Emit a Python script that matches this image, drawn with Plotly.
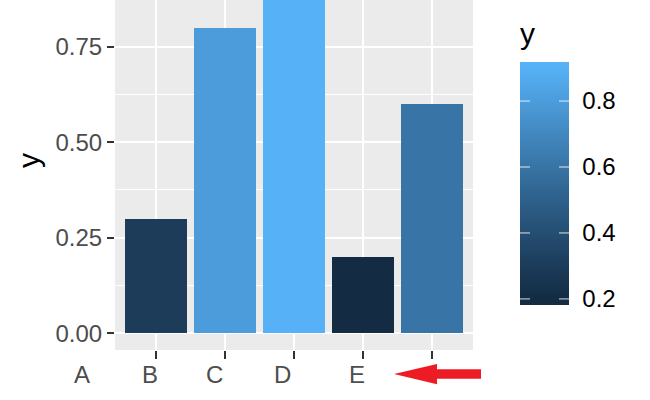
import plotly.graph_objects as go

# data
categories = ['A', 'B', 'C', 'D', 'E']
values = [0.3, 0.8, 0.9, 0.2, 0.6]
y_ticks = [0, 0.25, 0.5, 0.75]
y_ticktext = ['0.00', '0.25', '0.50', '0.75']
y_minor = [0.125, 0.375, 0.625]
cbar_ticks = [0.2, 0.4, 0.6, 0.8]
cbar_ticktext = ['0.2', '0.4', '0.6', '0.8']
low_col, high_col = '#132B43', '#56B1F7'

W, H = 650, 400
L, R, T, B = 115, 177, 0, 50
PW, PH = W - L - R, H - T - B
FONT = 'Liberation Sans, Arial, sans-serif'


def px(x, y):
    # pixel position in the image -> paper coords
    return (x - L) / PW, (H - B - y) / PH


def hex2rgb(h):
    h = h.lstrip('#')
    return [int(h[i:i + 2], 16) for i in (0, 2, 4)]


def rgb2lab(rgb):
    c = []
    for v in rgb:
        v = v / 255
        c.append(v / 12.92 if v <= 0.04045 else ((v + 0.055) / 1.055) ** 2.4)
    x = (0.4124 * c[0] + 0.3576 * c[1] + 0.1805 * c[2]) / 0.95047
    y = 0.2126 * c[0] + 0.7152 * c[1] + 0.0722 * c[2]
    z = (0.0193 * c[0] + 0.1192 * c[1] + 0.9505 * c[2]) / 1.08883
    f = lambda t: t ** (1 / 3) if t > (6 / 29) ** 3 else t / (3 * (6 / 29) ** 2) + 4 / 29
    return [116 * f(y) - 16, 500 * (f(x) - f(y)), 200 * (f(y) - f(z))]


def lab2rgb(lab):
    fy = (lab[0] + 16) / 116
    fx = fy + lab[1] / 500
    fz = fy - lab[2] / 200
    g = lambda t: t ** 3 if t > 6 / 29 else 3 * (6 / 29) ** 2 * (t - 4 / 29)
    x, y, z = g(fx) * 0.95047, g(fy), g(fz) * 1.08883
    r = 3.2406 * x - 1.5372 * y - 0.4986 * z
    gg = -0.9689 * x + 1.8758 * y + 0.0415 * z
    b = 0.0557 * x - 0.2040 * y + 1.0570 * z
    out = []
    for v in (r, gg, b):
        v = 12.92 * v if v <= 0.0031308 else 1.055 * v ** (1 / 2.4) - 0.055
        out.append(int(round(min(max(v, 0), 1) * 255)))
    return 'rgb(%d,%d,%d)' % tuple(out)


vmin, vmax = min(values), max(values)
half_bin = (vmax - vmin) / 38  # ggplot colourbar runs half a bin past the limits
cmin, cmax = vmin - half_bin, vmax + half_bin
lab_lo, lab_hi = rgb2lab(hex2rgb(low_col)), rgb2lab(hex2rgb(high_col))
s0 = (vmin - cmin) / (cmax - cmin)
s1 = (vmax - cmin) / (cmax - cmin)
scale = [[0, lab2rgb(lab_lo)]]
n = 20
for i in range(n + 1):
    t = i / n
    lab = [a + (b - a) * t for a, b in zip(lab_lo, lab_hi)]
    scale.append([s0 + (s1 - s0) * t, lab2rgb(lab)])
scale.append([1, lab2rgb(lab_hi)])

cb_top, cb_len, cb_left, cb_thick = 62, 243, 520, 49
tick_col = 'rgba(255,255,255,0.85)'

fig = go.Figure()
fig.add_trace(go.Bar(
    x=categories, y=values, width=0.9,
    marker=dict(color=values, colorscale=scale, cmin=cmin, cmax=cmax, line=dict(width=0),
                showscale=True,
                colorbar=dict(
                    x=px(cb_left, 0)[0], xanchor='left', xpad=0,
                    y=px(0, cb_top)[1], yanchor='top', ypad=0,
                    len=cb_len, lenmode='pixels', thickness=cb_thick, thicknessmode='pixels',
                    outlinewidth=0, tickvals=cbar_ticks, ticktext=cbar_ticktext,
                    ticks='outside', ticklen=9, tickcolor='rgba(0,0,0,0)',
                    tickfont=dict(family=FONT, size=24, color='black'),
                )),
    showlegend=False,
))

annotations = []
# white colourbar ticks on both edges, ggplot style (annotation arrows draw above the colourbar)
for v in cbar_ticks:
    yy = cb_top + (cmax - v) / (cmax - cmin) * cb_len
    for xh, off in [(cb_left + 10, -10), (cb_left + cb_thick - 10, 10)]:
        hx, hy = px(xh, yy)
        annotations.append(dict(x=hx, y=hy, xref='paper', yref='paper', text='', showarrow=True,
                                ax=off, ay=0, arrowhead=0, arrowwidth=1, arrowcolor=tick_col,
                                standoff=0, startstandoff=0, borderpad=0, borderwidth=0))

shapes = []
# red arrow under the x axis
arrow_pts = [(394, 374), (437, 364), (437, 369.3), (481, 369.3), (481, 378.7), (437, 378.7), (437, 384.3)]
path = 'M ' + ' L '.join('%f,%f' % px(a, b) for a, b in arrow_pts) + ' Z'
shapes.append(dict(type='path', xref='paper', yref='paper', path=path,
                   fillcolor='#ED1C24', line=dict(width=0)))

# x labels sit one slot to the left of their ticks
label_shift = [-74.6, -75.2, -79.7, -79.9, -75.0]
for c, s in zip(categories, label_shift):
    annotations.append(dict(x=c, xref='x', y=px(0, 374.7)[1], yref='paper', text=c, showarrow=False,
                            xshift=s, xanchor='center', yanchor='middle',
                            font=dict(family=FONT, size=24, color='#4D4D4D')))
ax_, ay_ = px(28, 161)
annotations.append(dict(x=ax_, y=ay_, xref='paper', yref='paper', text='y', showarrow=False,
                        textangle=-90, xanchor='center', yanchor='middle',
                        font=dict(family=FONT, size=30, color='black')))
lx, ly = px(518, 33)
annotations.append(dict(x=lx, y=ly, xref='paper', yref='paper', text='y', showarrow=False,
                        xanchor='left', yanchor='middle',
                        font=dict(family=FONT, size=30, color='black')))

fig.update_layout(
    width=W, height=H, margin=dict(l=L, r=R, t=T, b=B),
    plot_bgcolor='#EBEBEB', paper_bgcolor='white',
    bargap=0, shapes=shapes, annotations=annotations,
    xaxis=dict(range=[-0.6, 4.6], showticklabels=False, ticks='outside', ticklen=8, tickwidth=2,
               tickcolor='#333333', showgrid=True, gridcolor='white', gridwidth=2,
               zeroline=False, showline=False, fixedrange=True),
    yaxis=dict(range=[-0.0437, 0.872], tickvals=y_ticks, ticktext=y_ticktext,
               ticks='outside', ticklen=7, tickwidth=2, tickcolor='#333333',
               tickfont=dict(family=FONT, size=24, color='#4D4D4D'),
               showgrid=True, gridcolor='white', gridwidth=2, zeroline=False, showline=False,
               minor=dict(tickvals=y_minor, showgrid=True, gridcolor='white', gridwidth=1, ticks='')),
)

# drop the page's default body margin so the figure sits at the window's corner
fig.write_html('out.html', config={'displayModeBar': False},
               post_script="document.body.style.margin='0';")
